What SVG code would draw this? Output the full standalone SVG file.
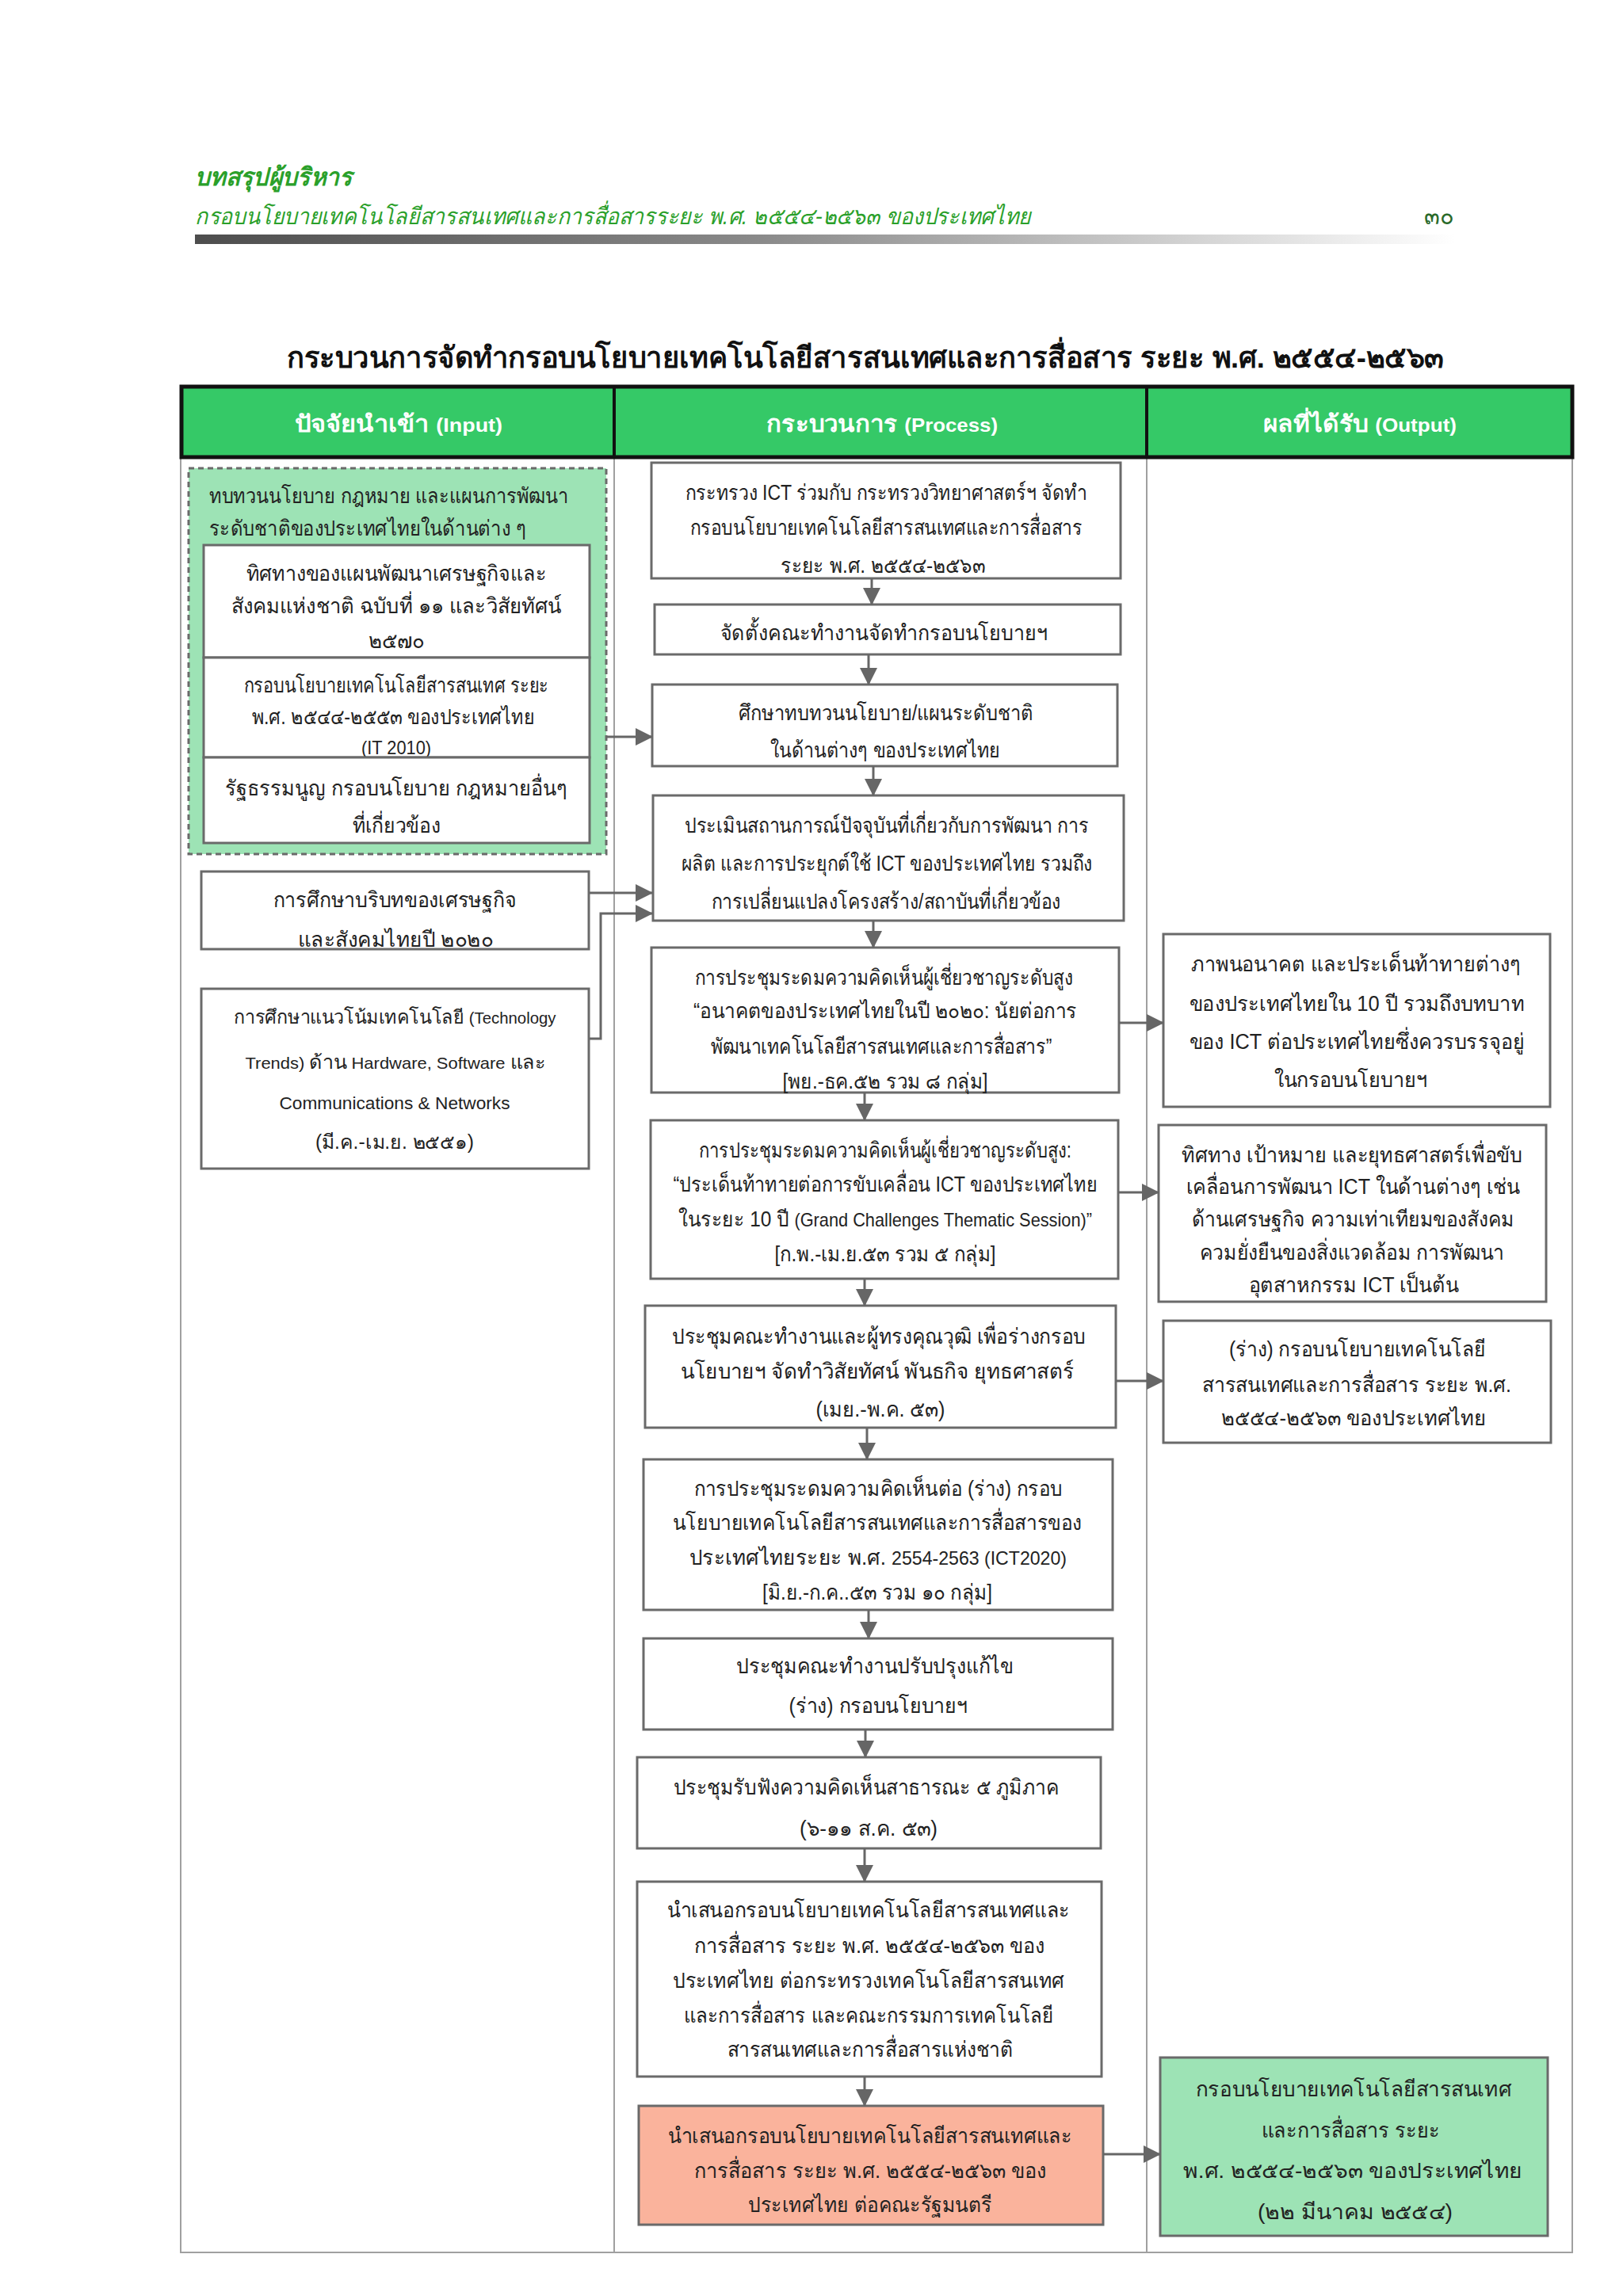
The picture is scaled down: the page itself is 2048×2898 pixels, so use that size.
<svg xmlns="http://www.w3.org/2000/svg" width="2048" height="2898" viewBox="0 0 2048 2898">
<defs>
<linearGradient id="bar" x1="0" y1="0" x2="1" y2="0">
<stop offset="0" stop-color="#4d4d4d"/>
<stop offset="0.45" stop-color="#8a8a8a"/>
<stop offset="1" stop-color="#ffffff"/>
</linearGradient>
<marker id="ah" markerUnits="userSpaceOnUse" markerWidth="22" markerHeight="22" refX="21" refY="11" orient="auto">
<path d="M0,0 L22,11 L0,22 z" fill="#666666"/>
</marker>
<style>
text{font-family:"Liberation Sans","DejaVu Sans","Noto Sans",sans-serif;fill:#222}
.t{font-size:27px;text-anchor:middle}
.box{fill:#ffffff;stroke:#6a6a6a;stroke-width:3}
.conn{fill:none;stroke:#666666;stroke-width:3;marker-end:url(#ah)}
.grid{stroke:#a0a0a0;stroke-width:2;fill:none}
.hd{font-size:29px;font-weight:bold;fill:#ffffff;text-anchor:middle}
</style>
</defs>
<rect width="2048" height="2898" fill="#ffffff"/>
<g id="page-header">
<text x="246" y="234" textLength="198" lengthAdjust="spacingAndGlyphs" style="font-size:31px;font-style:italic;font-weight:bold;fill:#2aa02a">บทสรุปผู้บริหาร</text>
<text x="246" y="283" textLength="1055" lengthAdjust="spacingAndGlyphs" style="font-size:29px;font-style:italic;fill:#2aa02a">กรอบนโยบายเทคโนโลยีสารสนเทศและการสื่อสารระยะ พ.ศ. ๒๕๕๔-๒๕๖๓ ของประเทศไทย</text>
<text x="1835" y="283" style="font-size:29px;fill:#2a6a2a;text-anchor:end">๓๐</text>
<rect x="246" y="296" width="1590" height="12" fill="url(#bar)"/>
</g>
<text x="1092" y="464" textLength="1460" lengthAdjust="spacingAndGlyphs" style="font-size:37px;font-weight:bold;text-anchor:middle;fill:#111">กระบวนการจัดทำกรอบนโยบายเทคโนโลยีสารสนเทศและการสื่อสาร ระยะ พ.ศ. ๒๕๕๔-๒๕๖๓</text>
<g id="table">
<rect x="228" y="577" width="1756" height="2266" class="grid"/>
<line x1="775" y1="577" x2="775" y2="2843" class="grid"/>
<line x1="1447" y1="577" x2="1447" y2="2843" class="grid"/>
<rect x="229" y="488" width="1755" height="89" fill="#35c967" stroke="#111" stroke-width="5"/>
<line x1="775" y1="488" x2="775" y2="577" stroke="#111" stroke-width="4"/>
<line x1="1447" y1="488" x2="1447" y2="577" stroke="#111" stroke-width="4"/>
<text x="503" y="545" class="hd" textLength="262" lengthAdjust="spacingAndGlyphs">ปัจจัยนำเข้า <tspan style="font-size:24px">(Input)</tspan></text>
<text x="1113" y="545" class="hd" textLength="292" lengthAdjust="spacingAndGlyphs">กระบวนการ <tspan style="font-size:24px">(Process)</tspan></text>
<text x="1716" y="545" class="hd" textLength="244" lengthAdjust="spacingAndGlyphs">ผลที่ได้รับ <tspan style="font-size:24px">(Output)</tspan></text>
</g>
<g id="input-group">
<rect x="238" y="591" width="527" height="487" fill="#9de3b5" stroke="#6a6a6a" stroke-width="3" stroke-dasharray="7 5"/>
<text x="264" y="635" textLength="453" lengthAdjust="spacingAndGlyphs" style="font-size:27px">ทบทวนนโยบาย กฎหมาย และแผนการพัฒนา</text>
<text x="264" y="676" textLength="400" lengthAdjust="spacingAndGlyphs" style="font-size:27px">ระดับชาติของประเทศไทยในด้านต่าง ๆ</text>
</g>
<g id="in1">
<rect x="257" y="688" width="487" height="142" class="box"/>
<text x="500" y="733" class="t" textLength="379" lengthAdjust="spacingAndGlyphs">ทิศทางของแผนพัฒนาเศรษฐกิจและ</text>
<text x="500" y="774" class="t" textLength="417" lengthAdjust="spacingAndGlyphs">สังคมแห่งชาติ ฉบับที่ ๑๑ และวิสัยทัศน์</text>
<text x="500" y="818" class="t" textLength="71" lengthAdjust="spacingAndGlyphs">๒๕๗๐</text>
</g>
<g id="in2">
<rect x="257" y="830" width="487" height="126" class="box"/>
<text x="500" y="874" class="t" textLength="385" lengthAdjust="spacingAndGlyphs">กรอบนโยบายเทคโนโลยีสารสนเทศ ระยะ</text>
<text x="496" y="914" class="t" textLength="357" lengthAdjust="spacingAndGlyphs">พ.ศ. ๒๕๔๔-๒๕๕๓ ของประเทศไทย</text>
<text x="500" y="952" class="t" style="font-size:24px" textLength="88" lengthAdjust="spacingAndGlyphs">(IT 2010)</text>
</g>
<g id="in3">
<rect x="257" y="956" width="487" height="108" class="box"/>
<text x="500" y="1004" class="t" textLength="432" lengthAdjust="spacingAndGlyphs">รัฐธรรมนูญ กรอบนโยบาย กฎหมายอื่นๆ</text>
<text x="500" y="1051" class="t" textLength="111" lengthAdjust="spacingAndGlyphs">ที่เกี่ยวข้อง</text>
</g>
<g id="in4">
<rect x="254" y="1100" width="489" height="98" class="box"/>
<text x="498" y="1145" class="t" textLength="307" lengthAdjust="spacingAndGlyphs">การศึกษาบริบทของเศรษฐกิจ</text>
<text x="499" y="1195" class="t" textLength="246" lengthAdjust="spacingAndGlyphs">และสังคมไทยปี ๒๐๒๐</text>
</g>
<g id="in5">
<rect x="254" y="1248" width="489" height="227" class="box"/>
<text x="498" y="1292" class="t" style="font-size:24px" textLength="407" lengthAdjust="spacingAndGlyphs">การศึกษาแนวโน้มเทคโนโลยี <tspan style="font-size:21px">(Technology</tspan></text>
<text x="499" y="1349" class="t" style="font-size:21px" textLength="379" lengthAdjust="spacingAndGlyphs">Trends) <tspan style="font-size:24px">ด้าน</tspan> Hardware, Software <tspan style="font-size:24px">และ</tspan></text>
<text x="498" y="1400" class="t" style="font-size:22px" textLength="291" lengthAdjust="spacingAndGlyphs">Communications &amp; Networks</text>
<text x="498" y="1450" class="t" style="font-size:25px" textLength="200" lengthAdjust="spacingAndGlyphs">(มี.ค.-เม.ย. ๒๕๕๑)</text>
</g>
<g id="p1">
<rect x="822" y="584" width="592" height="146" class="box"/>
<text x="1118" y="631" class="t" textLength="507" lengthAdjust="spacingAndGlyphs">กระทรวง ICT ร่วมกับ กระทรวงวิทยาศาสตร์ฯ จัดทำ</text>
<text x="1118" y="675" class="t" textLength="495" lengthAdjust="spacingAndGlyphs">กรอบนโยบายเทคโนโลยีสารสนเทศและการสื่อสาร</text>
<text x="1114" y="723" class="t" textLength="258" lengthAdjust="spacingAndGlyphs">ระยะ พ.ศ. ๒๕๕๔-๒๕๖๓</text>
</g>
<g id="p2">
<rect x="826" y="763" width="588" height="63" class="box"/>
<text x="1115" y="808" class="t" textLength="413" lengthAdjust="spacingAndGlyphs">จัดตั้งคณะทำงานจัดทำกรอบนโยบายฯ</text>
</g>
<g id="p3">
<rect x="823" y="864" width="587" height="103" class="box"/>
<text x="1118" y="909" class="t" textLength="372" lengthAdjust="spacingAndGlyphs">ศึกษาทบทวนนโยบาย/แผนระดับชาติ</text>
<text x="1117" y="956" class="t" textLength="290" lengthAdjust="spacingAndGlyphs">ในด้านต่างๆ ของประเทศไทย</text>
</g>
<g id="p4">
<rect x="824" y="1004" width="594" height="158" class="box"/>
<text x="1119" y="1051" class="t" textLength="510" lengthAdjust="spacingAndGlyphs">ประเมินสถานการณ์ปัจจุบันที่เกี่ยวกับการพัฒนา การ</text>
<text x="1119" y="1099" class="t" textLength="519" lengthAdjust="spacingAndGlyphs">ผลิต และการประยุกต์ใช้ ICT ของประเทศไทย รวมถึง</text>
<text x="1118" y="1147" class="t" textLength="441" lengthAdjust="spacingAndGlyphs">การเปลี่ยนแปลงโครงสร้าง/สถาบันที่เกี่ยวข้อง</text>
</g>
<g id="p5">
<rect x="822" y="1196" width="590" height="183" class="box"/>
<text x="1115" y="1243" class="t" textLength="477" lengthAdjust="spacingAndGlyphs">การประชุมระดมความคิดเห็นผู้เชี่ยวชาญระดับสูง</text>
<text x="1117" y="1285" class="t" textLength="484" lengthAdjust="spacingAndGlyphs">“อนาคตของประเทศไทยในปี ๒๐๒๐: นัยต่อการ</text>
<text x="1112" y="1330" class="t" textLength="431" lengthAdjust="spacingAndGlyphs">พัฒนาเทคโนโลยีสารสนเทศและการสื่อสาร”</text>
<text x="1117" y="1374" class="t" textLength="259" lengthAdjust="spacingAndGlyphs">[พย.-ธค.๕๒ รวม ๘ กลุ่ม]</text>
</g>
<g id="p6">
<rect x="821" y="1414" width="590" height="200" class="box"/>
<text x="1117" y="1461" class="t" textLength="470" lengthAdjust="spacingAndGlyphs">การประชุมระดมความคิดเห็นผู้เชี่ยวชาญระดับสูง:</text>
<text x="1117" y="1504" class="t" textLength="535" lengthAdjust="spacingAndGlyphs">“ประเด็นท้าทายต่อการขับเคลื่อน ICT ของประเทศไทย</text>
<text x="1117" y="1548" class="t" textLength="522" lengthAdjust="spacingAndGlyphs">ในระยะ 10 ปี <tspan style="font-size:24px">(Grand Challenges Thematic Session)”</tspan></text>
<text x="1117" y="1592" class="t" textLength="279" lengthAdjust="spacingAndGlyphs">[ก.พ.-เม.ย.๕๓ รวม ๕ กลุ่ม]</text>
</g>
<g id="p7">
<rect x="814" y="1648" width="594" height="154" class="box"/>
<text x="1109" y="1696" class="t" textLength="522" lengthAdjust="spacingAndGlyphs">ประชุมคณะทำงานและผู้ทรงคุณวุฒิ เพื่อร่างกรอบ</text>
<text x="1107" y="1740" class="t" textLength="497" lengthAdjust="spacingAndGlyphs">นโยบายฯ  จัดทำวิสัยทัศน์ พันธกิจ ยุทธศาสตร์</text>
<text x="1111" y="1788" class="t" textLength="163" lengthAdjust="spacingAndGlyphs">(เมย.-พ.ค. ๕๓)</text>
</g>
<g id="p8">
<rect x="812" y="1842" width="592" height="190" class="box"/>
<text x="1108" y="1888" class="t" textLength="465" lengthAdjust="spacingAndGlyphs">การประชุมระดมความคิดเห็นต่อ (ร่าง) กรอบ</text>
<text x="1107" y="1931" class="t" textLength="516" lengthAdjust="spacingAndGlyphs">นโยบายเทคโนโลยีสารสนเทศและการสื่อสารของ</text>
<text x="1108" y="1975" class="t" textLength="476" lengthAdjust="spacingAndGlyphs">ประเทศไทยระยะ พ.ศ. <tspan style="font-size:24px">2554-2563 (ICT2020)</tspan></text>
<text x="1107" y="2019" class="t" textLength="290" lengthAdjust="spacingAndGlyphs">[มิ.ย.-ก.ค..๕๓ รวม ๑๐ กลุ่ม]</text>
</g>
<g id="p9">
<rect x="812" y="2068" width="592" height="115" class="box"/>
<text x="1104" y="2112" class="t" textLength="350" lengthAdjust="spacingAndGlyphs">ประชุมคณะทำงานปรับปรุงแก้ไข</text>
<text x="1108" y="2162" class="t" textLength="225" lengthAdjust="spacingAndGlyphs">(ร่าง) กรอบนโยบายฯ</text>
</g>
<g id="p10">
<rect x="804" y="2218" width="585" height="115" class="box"/>
<text x="1093" y="2265" class="t" textLength="487" lengthAdjust="spacingAndGlyphs">ประชุมรับฟังความคิดเห็นสาธารณะ ๕ ภูมิภาค</text>
<text x="1096" y="2317" class="t" textLength="174" lengthAdjust="spacingAndGlyphs">(๖-๑๑ ส.ค. ๕๓)</text>
</g>
<g id="p11">
<rect x="804" y="2375" width="586" height="246" class="box"/>
<text x="1096" y="2420" class="t" textLength="508" lengthAdjust="spacingAndGlyphs">นำเสนอกรอบนโยบายเทคโนโลยีสารสนเทศและ</text>
<text x="1097" y="2465" class="t" textLength="443" lengthAdjust="spacingAndGlyphs">การสื่อสาร ระยะ พ.ศ. ๒๕๕๔-๒๕๖๓ ของ</text>
<text x="1096" y="2509" class="t" textLength="494" lengthAdjust="spacingAndGlyphs">ประเทศไทย ต่อกระทรวงเทคโนโลยีสารสนเทศ</text>
<text x="1096" y="2553" class="t" textLength="467" lengthAdjust="spacingAndGlyphs">และการสื่อสาร และคณะกรรมการเทคโนโลยี</text>
<text x="1098" y="2596" class="t" textLength="361" lengthAdjust="spacingAndGlyphs">สารสนเทศและการสื่อสารแห่งชาติ</text>
</g>
<g id="p12">
<rect x="806" y="2658" width="586" height="150" fill="#fab39c" stroke="#6a6a6a" stroke-width="3"/>
<text x="1098" y="2705" class="t" textLength="510" lengthAdjust="spacingAndGlyphs">นำเสนอกรอบนโยบายเทคโนโลยีสารสนเทศและ</text>
<text x="1098" y="2749" class="t" textLength="444" lengthAdjust="spacingAndGlyphs">การสื่อสาร ระยะ พ.ศ. ๒๕๕๔-๒๕๖๓ ของ</text>
<text x="1098" y="2792" class="t" textLength="308" lengthAdjust="spacingAndGlyphs">ประเทศไทย ต่อคณะรัฐมนตรี</text>
</g>
<g id="o1">
<rect x="1468" y="1179" width="488" height="218" class="box"/>
<text x="1711" y="1226" class="t" textLength="416" lengthAdjust="spacingAndGlyphs">ภาพนอนาคต และประเด็นท้าทายต่างๆ</text>
<text x="1712" y="1276" class="t" textLength="423" lengthAdjust="spacingAndGlyphs">ของประเทศไทยใน 10 ปี รวมถึงบทบาท</text>
<text x="1712" y="1324" class="t" textLength="423" lengthAdjust="spacingAndGlyphs">ของ ICT ต่อประเทศไทยซึ่งควรบรรจุอยู่</text>
<text x="1704" y="1372" class="t" textLength="193" lengthAdjust="spacingAndGlyphs">ในกรอบนโยบายฯ</text>
</g>
<g id="o2">
<rect x="1462" y="1420" width="489" height="223" class="box"/>
<text x="1706" y="1467" class="t" textLength="430" lengthAdjust="spacingAndGlyphs">ทิศทาง เป้าหมาย และยุทธศาสตร์เพื่อขับ</text>
<text x="1707" y="1507" class="t" textLength="421" lengthAdjust="spacingAndGlyphs">เคลื่อนการพัฒนา ICT ในด้านต่างๆ เช่น</text>
<text x="1707" y="1548" class="t" textLength="407" lengthAdjust="spacingAndGlyphs">ด้านเศรษฐกิจ ความเท่าเทียมของสังคม</text>
<text x="1706" y="1590" class="t" textLength="384" lengthAdjust="spacingAndGlyphs">ควมยั่งยืนของสิ่งแวดล้อม การพัฒนา</text>
<text x="1708" y="1631" class="t" textLength="265" lengthAdjust="spacingAndGlyphs">อุตสาหกรรม ICT เป็นต้น</text>
</g>
<g id="o3">
<rect x="1468" y="1667" width="489" height="154" class="box"/>
<text x="1713" y="1712" class="t" textLength="324" lengthAdjust="spacingAndGlyphs">(ร่าง) กรอบนโยบายเทคโนโลยี</text>
<text x="1712" y="1757" class="t" textLength="390" lengthAdjust="spacingAndGlyphs">สารสนเทศและการสื่อสาร ระยะ พ.ศ.</text>
<text x="1708" y="1799" class="t" textLength="335" lengthAdjust="spacingAndGlyphs">๒๕๕๔-๒๕๖๓ ของประเทศไทย</text>
</g>
<g id="o4">
<rect x="1464" y="2597" width="489" height="225" fill="#9de3b5" stroke="#6a6a6a" stroke-width="3"/>
<text x="1708" y="2646" class="t" textLength="398" lengthAdjust="spacingAndGlyphs">กรอบนโยบายเทคโนโลยีสารสนเทศ</text>
<text x="1704" y="2698" class="t" textLength="225" lengthAdjust="spacingAndGlyphs">และการสื่อสาร ระยะ</text>
<text x="1707" y="2749" class="t" textLength="428" lengthAdjust="spacingAndGlyphs">พ.ศ. ๒๕๕๔-๒๕๖๓ ของประเทศไทย</text>
<text x="1710" y="2801" class="t" textLength="246" lengthAdjust="spacingAndGlyphs">(๒๒ มีนาคม ๒๕๕๔)</text>
</g>
<g id="connectors">
<line x1="765" y1="930" x2="823" y2="930" class="conn"/>
<line x1="744" y1="1127" x2="823" y2="1127" class="conn"/>
<polyline points="744,1311 758,1311 758,1153 823,1153" class="conn"/>
<line x1="1100" y1="730" x2="1100" y2="763" class="conn"/>
<line x1="1096" y1="826" x2="1096" y2="864" class="conn"/>
<line x1="1102" y1="967" x2="1102" y2="1004" class="conn"/>
<line x1="1102" y1="1162" x2="1102" y2="1196" class="conn"/>
<line x1="1091" y1="1379" x2="1091" y2="1414" class="conn"/>
<line x1="1091" y1="1614" x2="1091" y2="1648" class="conn"/>
<line x1="1094" y1="1802" x2="1094" y2="1842" class="conn"/>
<line x1="1096" y1="2032" x2="1096" y2="2068" class="conn"/>
<line x1="1092" y1="2183" x2="1092" y2="2218" class="conn"/>
<line x1="1091" y1="2333" x2="1091" y2="2375" class="conn"/>
<line x1="1091" y1="2621" x2="1091" y2="2658" class="conn"/>
<line x1="1412" y1="1291" x2="1468" y2="1291" class="conn"/>
<line x1="1411" y1="1505" x2="1462" y2="1505" class="conn"/>
<line x1="1408" y1="1743" x2="1468" y2="1743" class="conn"/>
<line x1="1392" y1="2719" x2="1464" y2="2719" class="conn"/>
</g>
</svg>
